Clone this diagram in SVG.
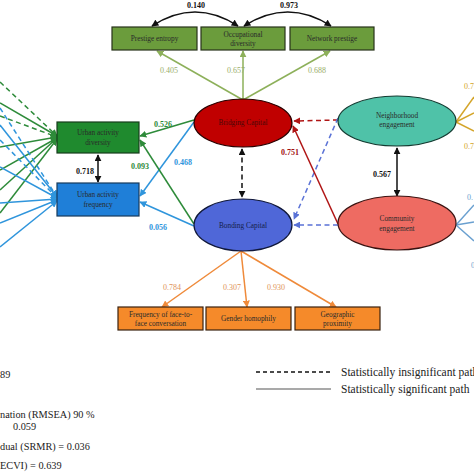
<svg xmlns="http://www.w3.org/2000/svg" width="474" height="474" viewBox="0 0 474 474">
<style>
text{font-family:"Liberation Serif","Times New Roman",serif}
.bt{font-size:7.3px;fill:#2a2a2a;text-anchor:middle}
.lb{font-size:8px;font-weight:bold;text-anchor:middle}
.ln{fill:none;stroke-width:1.5}
.ds{stroke-dasharray:5,3.5}
.g1{stroke:#8db05a}.g2{stroke:#2e8b3a}.b1{stroke:#2f95dc}.r1{stroke:#b01515}.bl{stroke:#5a72d6}
.o1{stroke:#ef8a3a}.k{stroke:#111}.gd{stroke:#d4a52a}.lbb{stroke:#6aa0d0}
.fit{font-size:10.3px;fill:#222}
</style>
<defs>
<marker id="mG1" viewBox="0 0 10 10" refX="9" refY="5" markerWidth="7" markerHeight="7" markerUnits="userSpaceOnUse" orient="auto-start-reverse"><path d="M0,0L10,5L0,10z" fill="#8db05a"/></marker>
<marker id="mG2" viewBox="0 0 10 10" refX="9" refY="5" markerWidth="7" markerHeight="7" markerUnits="userSpaceOnUse" orient="auto-start-reverse"><path d="M0,0L10,5L0,10z" fill="#2e8b3a"/></marker>
<marker id="mB1" viewBox="0 0 10 10" refX="9" refY="5" markerWidth="7" markerHeight="7" markerUnits="userSpaceOnUse" orient="auto-start-reverse"><path d="M0,0L10,5L0,10z" fill="#2f95dc"/></marker>
<marker id="mR1" viewBox="0 0 10 10" refX="9" refY="5" markerWidth="7" markerHeight="7" markerUnits="userSpaceOnUse" orient="auto-start-reverse"><path d="M0,0L10,5L0,10z" fill="#b01515"/></marker>
<marker id="mBl" viewBox="0 0 10 10" refX="9" refY="5" markerWidth="7" markerHeight="7" markerUnits="userSpaceOnUse" orient="auto-start-reverse"><path d="M0,0L10,5L0,10z" fill="#5a72d6"/></marker>
<marker id="mO1" viewBox="0 0 10 10" refX="9" refY="5" markerWidth="7" markerHeight="7" markerUnits="userSpaceOnUse" orient="auto-start-reverse"><path d="M0,0L10,5L0,10z" fill="#ef8a3a"/></marker>
<marker id="mK" viewBox="0 0 10 10" refX="9" refY="5" markerWidth="7" markerHeight="7" markerUnits="userSpaceOnUse" orient="auto-start-reverse"><path d="M0,0L10,5L0,10z" fill="#111"/></marker>
</defs>
<rect width="474" height="474" fill="#fff"/>

<g id="connectors">
<path class="ln k" d="M152,26 Q195,-2 238,26" marker-start="url(#mK)" marker-end="url(#mK)"/>
<path class="ln k" d="M244,26 Q288,-2 331,26" marker-start="url(#mK)" marker-end="url(#mK)"/>
<line class="ln g1" x1="243" y1="100" x2="157" y2="51" marker-end="url(#mG1)"/>
<line class="ln g1" x1="243" y1="100" x2="243" y2="51" marker-end="url(#mG1)"/>
<line class="ln g1" x1="243" y1="100" x2="330" y2="51" marker-end="url(#mG1)"/>
<line class="ln g2 ds" x1="0" y1="82" x2="57" y2="136" marker-end="url(#mG2)"/>
<line class="ln g2" x1="0" y1="103" x2="57" y2="136" marker-end="url(#mG2)"/>
<line class="ln g2 ds" x1="0" y1="116" x2="57" y2="137" marker-end="url(#mG2)"/>
<line class="ln g2" x1="0" y1="147" x2="57" y2="137" marker-end="url(#mG2)"/>
<line class="ln g2" x1="0" y1="170" x2="57" y2="138" marker-end="url(#mG2)"/>
<line class="ln g2" x1="0" y1="190" x2="57" y2="138" marker-end="url(#mG2)"/>
<line class="ln g2" x1="0" y1="213" x2="57" y2="139" marker-end="url(#mG2)"/>
<line class="ln b1 ds" x1="0" y1="108" x2="57" y2="197" marker-end="url(#mB1)"/>
<line class="ln b1 ds" x1="0" y1="140" x2="57" y2="198" marker-end="url(#mB1)"/>
<line class="ln b1" x1="0" y1="125" x2="57" y2="197" marker-end="url(#mB1)"/>
<line class="ln b1" x1="0" y1="167" x2="57" y2="198" marker-end="url(#mB1)"/>
<line class="ln b1" x1="0" y1="203" x2="57" y2="199" marker-end="url(#mB1)"/>
<line class="ln b1" x1="0" y1="223" x2="57" y2="200" marker-end="url(#mB1)"/>
<line class="ln b1" x1="0" y1="247" x2="57" y2="201" marker-end="url(#mB1)"/>
<line class="ln k" x1="98" y1="155" x2="98" y2="182" stroke-width="2" marker-start="url(#mK)" marker-end="url(#mK)"/>
<line class="ln g2" x1="194" y1="120" x2="140" y2="136" marker-end="url(#mG2)"/>
<line class="ln b1" x1="194" y1="122" x2="140" y2="196" marker-end="url(#mB1)"/>
<line class="ln g2" x1="194" y1="224" x2="140" y2="140" marker-end="url(#mG2)"/>
<line class="ln b1" x1="194" y1="226" x2="140" y2="202" marker-end="url(#mB1)"/>
<line class="ln k ds" x1="242" y1="149" x2="242" y2="197" stroke-width="1.8" marker-start="url(#mK)" marker-end="url(#mK)"/>
<line class="ln r1 ds" x1="338" y1="120" x2="294" y2="121" marker-end="url(#mR1)"/>
<line class="ln bl ds" x1="338" y1="118" x2="294" y2="219" marker-end="url(#mBl)"/>
<line class="ln bl ds" x1="338" y1="225" x2="294" y2="225" marker-end="url(#mBl)"/>
<line class="ln r1" x1="338" y1="224" x2="293" y2="126" marker-end="url(#mR1)"/>
<line class="ln k" x1="397" y1="148" x2="397" y2="196" stroke-width="2" marker-start="url(#mK)" marker-end="url(#mK)"/>
<line class="ln gd" x1="456" y1="122" x2="474" y2="97"/>
<line class="ln gd" x1="456" y1="122" x2="474" y2="113"/>
<line class="ln gd" x1="456" y1="122" x2="474" y2="131"/>
<line class="ln lbb" x1="456" y1="225" x2="474" y2="205"/>
<line class="ln lbb" x1="456" y1="225" x2="474" y2="222"/>
<line class="ln lbb" x1="456" y1="225" x2="474" y2="241"/>
<line class="ln o1" x1="241" y1="251" x2="162" y2="307" marker-end="url(#mO1)"/>
<line class="ln o1" x1="241" y1="251" x2="247" y2="307" marker-end="url(#mO1)"/>
<line class="ln o1" x1="241" y1="251" x2="336" y2="307" marker-end="url(#mO1)"/>
</g>

<g id="n-prestige-entropy"><rect x="112" y="27" width="85" height="23" fill="#6b9c3c" stroke="#27331a" stroke-width="1.2"/><text class="bt" x="154.5" y="41">Prestige entropy</text></g>
<g id="n-occupational-diversity"><rect x="201" y="27" width="84" height="23" fill="#6b9c3c" stroke="#27331a" stroke-width="1.2"/><text class="bt" x="243" y="36.5">Occupational</text><text class="bt" x="243" y="45.5">diversity</text></g>
<g id="n-network-prestige"><rect x="290" y="27" width="84" height="23" fill="#6b9c3c" stroke="#27331a" stroke-width="1.2"/><text class="bt" x="332" y="41">Network prestige</text></g>

<g id="n-urban-diversity"><rect x="57" y="122" width="82" height="31" fill="#1f8a2e" stroke="#163d1c" stroke-width="1.2"/><text class="bt" x="98" y="135">Urban activity</text><text class="bt" x="98" y="145">diversity</text></g>
<g id="n-urban-frequency"><rect x="57" y="183" width="82" height="33" fill="#1f7fd8" stroke="#163a5c" stroke-width="1.2"/><text class="bt" x="98" y="197">Urban activity</text><text class="bt" x="98" y="207">frequency</text></g>

<g id="n-bridging"><ellipse cx="243" cy="123" rx="49" ry="24" fill="#c00000" stroke="#2a0000" stroke-width="1.2"/><text class="bt" x="243" y="125" style="fill:#4a0808">Bridging Capital</text></g>
<g id="n-bonding"><ellipse cx="243" cy="225" rx="49" ry="26" fill="#4f67d8" stroke="#10183a" stroke-width="1.2"/><text class="bt" x="243" y="228" style="fill:#14204a">Bonding Capital</text></g>
<g id="n-neighborhood"><ellipse cx="397" cy="121" rx="59" ry="25" fill="#4fc2a8" stroke="#123a30" stroke-width="1.2"/><text class="bt" x="397" y="118">Neighborhood</text><text class="bt" x="397" y="127">engagement</text></g>
<g id="n-community"><ellipse cx="397" cy="223" rx="59" ry="27" fill="#ee6b62" stroke="#3a1210" stroke-width="1.2"/><text class="bt" x="397" y="221">Community</text><text class="bt" x="397" y="231">engagement</text></g>

<g id="n-face-to-face"><rect x="118" y="307" width="85" height="23" fill="#f58a2a" stroke="#3a2210" stroke-width="1.2"/><text class="bt" x="160.5" y="316.5">Frequency of face-to-</text><text class="bt" x="160.5" y="325.5">face conversation</text></g>
<g id="n-gender"><rect x="206" y="307" width="85" height="23" fill="#f58a2a" stroke="#3a2210" stroke-width="1.2"/><text class="bt" x="248.5" y="321">Gender homophily</text></g>
<g id="n-geographic"><rect x="295" y="307" width="85" height="23" fill="#f58a2a" stroke="#3a2210" stroke-width="1.2"/><text class="bt" x="337.5" y="316.5">Geographic</text><text class="bt" x="337.5" y="325.5">proximity</text></g>

<g id="labels">
<text class="lb" x="196" y="8" fill="#111">0.140</text>
<text class="lb" x="289" y="8" fill="#111">0.973</text>
<text class="lb" x="169" y="73" fill="#9aae6a" style="font-weight:normal">0.405</text>
<text class="lb" x="236" y="73" fill="#9aae6a" style="font-weight:normal">0.657</text>
<text class="lb" x="317" y="73" fill="#9aae6a" style="font-weight:normal">0.688</text>
<text class="lb" x="163" y="127" fill="#2e8b3a">0.526</text>
<text class="lb" x="140" y="169" fill="#2e8b3a">0.093</text>
<text class="lb" x="183" y="165" fill="#2f95dc">0.468</text>
<text class="lb" x="158" y="230" fill="#2f95dc">0.056</text>
<text class="lb" x="85" y="174" fill="#111">0.718</text>
<text class="lb" x="290" y="155" fill="#a01010">0.751</text>
<text class="lb" x="382" y="177" fill="#111">0.567</text>
<text class="lb" x="172" y="290" fill="#e0945a" style="font-weight:normal">0.784</text>
<text class="lb" x="232" y="290" fill="#e0945a" style="font-weight:normal">0.307</text>
<text class="lb" x="276" y="290" fill="#e0945a" style="font-weight:normal">0.930</text>
<text class="lb" x="464" y="89" fill="#d4a52a" style="text-anchor:start;font-weight:normal">0.7</text>
<text class="lb" x="464" y="149" fill="#d4a52a" style="text-anchor:start;font-weight:normal">0.7</text>
<text class="lb" x="467" y="200" fill="#6aa0d0" style="text-anchor:start;font-weight:normal">0.</text>
<text class="lb" x="471" y="268" fill="#6aa0d0" style="text-anchor:start;font-weight:normal">0</text>
</g>

<g id="fit-indices">
<text class="fit" x="0" y="378">89</text>
<text class="fit" x="0" y="418">nation (RMSEA) 90 %</text>
<text class="fit" x="13" y="430">0.059</text>
<text class="fit" x="0" y="450">dual (SRMR) = 0.036</text>
<text class="fit" x="0" y="469">ECVI) = 0.639</text>
</g>

<g id="legend">
<line x1="256" y1="372" x2="331" y2="372" stroke="#111" stroke-width="1.4" stroke-dasharray="4,3"/>
<line x1="256" y1="389" x2="331" y2="389" stroke="#555" stroke-width="1.2"/>
<text x="341" y="376" font-size="11.5" fill="#222">Statistically insignificant path</text>
<text x="341" y="393" font-size="11.5" fill="#222">Statistically significant path</text>
</g>
</svg>
